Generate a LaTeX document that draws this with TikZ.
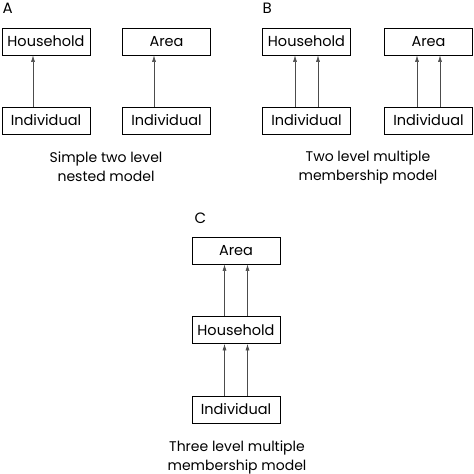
\documentclass[tikz,border=0pt]{standalone}
\usepackage{fontspec}
\setmainfont{Poppins}
\usetikzlibrary{arrows.meta}

\tikzset{
    level/.style = {draw, line width=0.8pt, minimum width=88pt, minimum height=27pt, inner sep=0pt, font=\fontsize{14.5}{16}\selectfont},
    member/.style = {-{Latex[length=6.5pt, width=4pt]}, line width=0.6pt, color=black!70},
    caption/.style = {align=center, font=\fontsize{14}{19}\selectfont},
    panel/.style = {anchor=west, font=\fontsize{15}{16}\selectfont}
}

\begin{document}
\begin{tikzpicture}[x=1pt, y=-1pt]
                \useasboundingbox (0,0) rectangle (474,474);

                % Panel A:
                \node[panel] (labA) at (-1,8) {A};
                \node[level] (hhA) at (46,41.5) {Household};
                \node[level] (indA) at (46,120.5) {Individual};
                \node[level] (areaA) at (166.5,41.5) {Area};
                \node[level] (indAA) at (166.5,120.5) {Individual};
                \draw[member] ([xshift=-13pt]indA.north) -- ([xshift=-13pt]hhA.south);
                \draw[member] ([xshift=-12.5pt]indAA.north) -- ([xshift=-12.5pt]areaA.south);
                \node[caption] (capA) at (106,167) {Simple two level\\nested model};

                % Panel B:
                \node[panel] (labB) at (259,8) {B};
                \node[level] (hhB) at (306.5,41.5) {Household};
                \node[level] (indB) at (306.5,120.5) {Individual};
                \node[level] (areaB) at (428.5,41.5) {Area};
                \node[level] (indBB) at (428.5,120.5) {Individual};
                \foreach \dx in {-11.5, 11.5} {
                    \draw[member] ([xshift=\dx pt]indB.north) -- ([xshift=\dx pt]hhB.south);
                    \draw[member] ([xshift=\dx pt]indBB.north) -- ([xshift=\dx pt]areaB.south);
                }
                \node[caption] (capB) at (368,167) {Two level multiple\\membership model};

                % Panel C:
                \node[panel] (labC) at (191,218) {C};
                \node[level] (areaC) at (236,250.5) {Area};
                \node[level] (hhC) at (236,330) {Household};
                \node[level] (indC) at (236,409.5) {Individual};
                \foreach \dx in {-11.5, 11.5} {
                    \draw[member] ([xshift=\dx pt]hhC.north) -- ([xshift=\dx pt]areaC.south);
                    \draw[member] ([xshift=\dx pt]indC.north) -- ([xshift=\dx pt]hhC.south);
                }
                \node[caption] (capC) at (237,457) {Three level multiple\\membership model};
\end{tikzpicture}
\end{document}
